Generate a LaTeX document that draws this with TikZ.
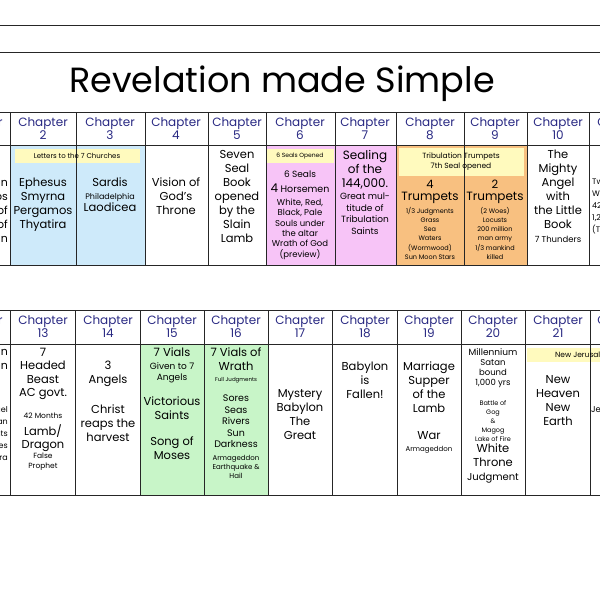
\documentclass[tikz,border=0pt]{standalone}
\usepackage{fontspec}
\setmainfont{Poppins}
\definecolor{navy}{RGB}{40,40,130}
\definecolor{cblue}{RGB}{206,234,250}
\definecolor{cpink}{RGB}{247,196,247}
\definecolor{corange}{RGB}{248,192,128}
\definecolor{cgreen}{RGB}{200,245,200}
\definecolor{cyel}{RGB}{255,250,190}
\newcommand{\fs}[2]{\fontsize{#1}{#2}\selectfont}
\tikzset{
  bk/.style={anchor=north, align=center, inner sep=0pt, font=\fs{11.5}{14}},
  hdr/.style={anchor=center, align=center, inner sep=0pt, text=navy, font=\fs{12}{13}},
  frame/.style={line width=0.9pt, draw=black!85}
}
\begin{document}
\begin{tikzpicture}[x=1pt,y=-1pt]
\useasboundingbox (0,0) rectangle (600,600);
\clip (0,0) rectangle (600,600);
\draw[frame] (0,25) -- (600,25);
\draw[frame] (0,52) -- (600,52);
\node[inner sep=0pt, font=\fs{35}{36}] (title) at (282,84) {Revelation made Simple};
% ---------- top table fills
\fill[cblue] (10,145) rectangle (145,265);
\fill[cpink] (266,145) rectangle (396,265);
\fill[corange] (396,145) rectangle (527,265);
\fill[cyel] (15,149) rectangle (140,163);
\fill[cyel] (267,149) rectangle (334,163);
\fill[cyel] (399,148) rectangle (524,176);
% ---------- top table frame
\foreach \y in {112,145,265} \draw[frame] (0,\y) -- (600,\y);
\foreach \x in {10,76,145,208,266,335,396,464,527,589} \draw[frame] (\x,112) -- (\x,265);
\foreach \x/\n/\c in {-22/1/h1,43/2/h2,110/3/h3,176/4/h4,237/5/h5,300/6/h6,365/7/h7,430/8/h8,495/9/h9,558/10/h10,622/11/h11}
  \node[hdr] (\c) at (\x,129) {Chapter\\\n};
% banners
\node[inner sep=0pt, font=\fs{7}{8}] (b1) at (77,156) {Letters to the 7 Churches};
\node[inner sep=0pt, font=\fs{6}{7}] (b2) at (300,156) {6 Seals Opened};
\node[inner sep=0pt, align=center, font=\fs{7.5}{10}] (b3) at (461,162) {Tribulation Trumpets\\7th Seal opened};
% contents
\node[bk, align=right, anchor=north east, text width=60pt, font=\fs{11}{14}] (t1) at (8,178) {John on\\Patmos\\Vision of\\Son of Man};
\node[bk] (t2) at (43,178) {Ephesus\\Smyrna\\Pergamos\\Thyatira};
\node[bk] (t3a) at (110,178) {Sardis};
\node[bk, font=\fs{8}{10}] (t3b) at (110,193) {Philadelphia};
\node[bk] (t3c) at (110,203) {Laodicea};
\node[bk] (t4) at (176,178) {Vision of\\God’s\\Throne};
\node[bk] (t5) at (237,150) {Seven\\Seal\\Book\\opened\\by the\\Slain\\Lamb};
\node[bk, font=\fs{9}{10}] (t6a) at (300,171) {6 Seals};
\node[bk, font=\fs{9.5}{12}] (t6b) at (300,184) {{\fs{12}{12}4} Horsemen};
\node[bk, font=\fs{8.5}{10.3}] (t6c) at (300,199) {White, Red,\\Black, Pale\\Souls under\\the altar\\Wrath of God\\(preview)};
\node[bk, font=\fs{12}{14}] (t7a) at (365,150) {Sealing\\of the\\144,000.};
\node[bk, font=\fs{9}{11.5}] (t7b) at (365,193) {Great mul-\\titude of\\Tribulation\\Saints};
\node[bk] (t8a) at (430,180) {4};
\node[bk, font=\fs{12}{14}] (t8b) at (430,192) {Trumpets};
\node[bk, font=\fs{6.5}{9.2}] (t8c) at (430,207) {1/3 Judgments\\Grass\\Sea\\Waters\\(Wormwood)\\Sun Moon Stars};
\node[bk] (t9a) at (495,180) {2};
\node[bk, font=\fs{12}{14}] (t9b) at (495,192) {Trumpets};
\node[bk, font=\fs{6.5}{9.2}] (t9c) at (495,207) {(2 Woes)\\Locusts\\200 million\\man army\\1/3 mankind\\killed};
\node[bk] (t10a) at (558,150) {The\\Mighty\\Angel\\with\\the Little\\Book};
\node[bk, font=\fs{8.5}{10}] (t10b) at (558,236) {7 Thunders};
\node[anchor=north west, align=left, inner sep=0pt, font=\fs{8}{12}] (t11) at (592,179) {Two\\Witnesses\\42 months\\1,260 days\\(Temple)};
% ---------- bottom table fills
\fill[cgreen] (140,344) rectangle (268,495);
\fill[cyel] (527,348) rectangle (655,362);
\foreach \y in {310,344,495} \draw[frame] (0,\y) -- (600,\y);
\foreach \x in {10,75,140,204,268,332,397,461,525,590} \draw[frame] (\x,310) -- (\x,495);
\foreach \x/\n/\c in {-22/12/g12,43/13/g13,108/14/g14,172/15/g15,236/16/g16,300/17/g17,365/18/g18,429/19/g19,493/20/g20,558/21/g21,622/22/g22}
  \node[hdr] (\c) at (\x,327) {Chapter\\\n};
\node[anchor=west, inner sep=0pt, font=\fs{7.5}{9}] (b4) at (555,355) {New Jerusalem};
\node[anchor=north east, align=right, text width=60pt, inner sep=0pt, font=\fs{11}{14}] (s12a) at (8,348) {Woman\\Dragon};
\node[anchor=north east, align=right, text width=60pt, inner sep=0pt, font=\fs{8}{12}] (s12b) at (8,406) {Michael\\Woman\\Saints\\flees\\Petra};
\node[bk, font=\fs{11.5}{13.5}] (s13a) at (43,348) {7\\Headed\\Beast\\AC govt.};
\node[bk, font=\fs{7.5}{9}] (s13b) at (43,413) {42 Months};
\node[bk, font=\fs{11.5}{13.5}] (s13c) at (43,424) {Lamb/\\Dragon};
\node[bk, font=\fs{7.5}{10}] (s13d) at (43,453) {False\\Prophet};
\node[bk] (s14a) at (108,361) {3\\Angels};
\node[bk] (s14b) at (108,405) {Christ\\reaps the\\harvest};
\node[bk] (s15a) at (172,348) {7 Vials};
\node[bk, font=\fs{9}{11.5}] (s15b) at (172,362) {Given to 7\\Angels};
\node[bk] (s15c) at (172,397) {Victorious\\Saints};
\node[bk] (s15d) at (172,437) {Song of\\Moses};
\node[bk, font=\fs{11.5}{13.5}] (s16a) at (236,348) {7 Vials of\\Wrath};
\node[bk, font=\fs{5.5}{7}] (s16b) at (236,377) {Full Judgments};
\node[bk, font=\fs{9.5}{11.5}] (s16c) at (236,395) {Sores\\Seas\\Rivers\\Sun\\Darkness};
\node[bk, font=\fs{7}{9}] (s16d) at (236,455) {Armageddon\\Earthquake \&\\Hail};
\node[bk] (s17) at (300,389) {Mystery\\Babylon\\The\\Great};
\node[bk] (s18) at (365,362) {Babylon\\is\\Fallen!};
\node[bk] (s19a) at (429,362) {Marriage\\Supper\\of the\\Lamb};
\node[bk] (s19b) at (429,431) {War};
\node[bk, font=\fs{7}{9}] (s19c) at (429,446) {Armageddon};
\node[bk, font=\fs{9}{11}] (s20a) at (493,348) {Millennium};
\node[bk, font=\fs{8.5}{10.3}] (s20b) at (493,359) {Satan\\bound\\1,000 yrs};
\node[bk, font=\fs{6.5}{9}] (s20c) at (493,400) {Battle of\\Gog\\\&\\Magog\\Lake of Fire};
\node[bk, font=\fs{11.5}{13.5}] (s20d) at (493,444) {White\\Throne};
\node[bk, font=\fs{10}{12}] (s20e) at (493,473) {Judgment};
\node[bk] (s21) at (558,375) {New\\Heaven\\New\\Earth};
\node[anchor=north west, inner sep=0pt, font=\fs{8.5}{10}] (s22) at (591,406) {Jerusalem};
\end{tikzpicture}
\end{document}
